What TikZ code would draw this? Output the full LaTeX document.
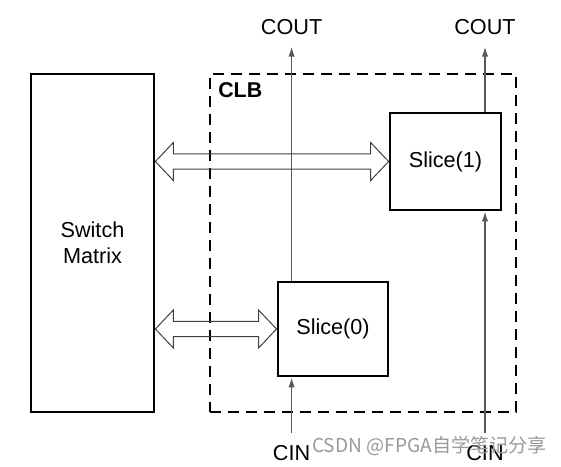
\documentclass[tikz,border=0pt]{standalone}
\usepackage{fontspec}
\setmainfont{Liberation Sans}
\newfontfamily\cjkfont{Noto Sans CJK SC}
\usetikzlibrary{arrows.meta,calc}
\colorlet{mygray}{black!65}
\colorlet{mywater}{black!40}

\tikzset{
  blockbox/.style={draw, line width=1.8pt, align=center, inner sep=0pt},
  clbbox/.style={draw, line width=1.7pt, dash pattern=on 7.8pt off 5pt},
  sig/.style={draw=mygray, line width=1pt, -{Latex[length=0.25cm,width=0.16cm]}},
  bus/.style={draw=black!75, line width=0.7pt, line join=miter},
  lbl/.style={inner xsep=0pt, inner ysep=0.3cm},
}

% hollow double arrow between two points at the height of the first one
\newcommand{\BusArrow}[2]{%
  \draw[bus] let \p1=(#1), \p2=(#2) in
    (\p1) -- (\x1+0.45cm,\y1+0.475cm) -- (\x1+0.45cm,\y1+0.19cm)
    -- (\x2-0.45cm,\y1+0.19cm) -- (\x2-0.45cm,\y1+0.475cm) -- (\x2,\y1)
    -- (\x2-0.45cm,\y1-0.475cm) -- (\x2-0.45cm,\y1-0.19cm)
    -- (\x1+0.45cm,\y1-0.19cm) -- (\x1+0.45cm,\y1-0.475cm) -- cycle;}

\begin{document}
\begin{tikzpicture}[font=\fontsize{15.4}{18.5}\selectfont]
\useasboundingbox (0,0) rectangle (14.025,11.675);

% blocks
\node[blockbox, minimum width=3.08cm, minimum height=8.45cm] (sm) at (2.3125,5.6) {Switch\\Matrix};
\node[clbbox, minimum width=7.65cm, minimum height=8.45cm] (clb) at (9.075,5.6) {};
\node[font=\fontsize{15.2}{18}\selectfont\bfseries, anchor=west, inner sep=0pt] (clbname) at (5.45,9.41) {CLB};
\node[blockbox, minimum width=2.78cm, minimum height=2.43cm] (s1) at (11.1375,7.6375) {Slice(1)};
\node[blockbox, minimum width=2.76cm, minimum height=2.36cm] (s0) at (8.325,3.45) {Slice(0)};

% carry labels
\node[lbl, anchor=south] (cout0) at (7.29,10.51) {COUT};
\node[lbl, anchor=south] (cout1) at (12.125,10.51) {COUT};
\node[lbl, anchor=north] (cin0) at (7.29,0.85) {CIN};
\node[lbl, anchor=north] (cin1) at (12.125,0.85) {CIN};

% carry chain
\draw[sig] (cout0.south |- s0.north) -- (cout0.south);
\draw[sig] (cout1.south |- s1.north) -- (cout1.south);
\draw[sig] (cin0.north) -- (cin0.north |- s0.south);
\draw[sig] (cin1.north) -- (cin1.north |- s1.south);

% routing to the switch matrix
\BusArrow{sm.east |- s1.west}{s1.west}
\BusArrow{sm.east |- s0.west}{s0.west}

% watermark
\node[anchor=base west, inner sep=0pt, text=mywater, font=\cjkfont\fontsize{13.6}{16}\selectfont] (wm) at (7.8,0.35) {CSDN @FPGA自学笔记分享};
\end{tikzpicture}
\end{document}
